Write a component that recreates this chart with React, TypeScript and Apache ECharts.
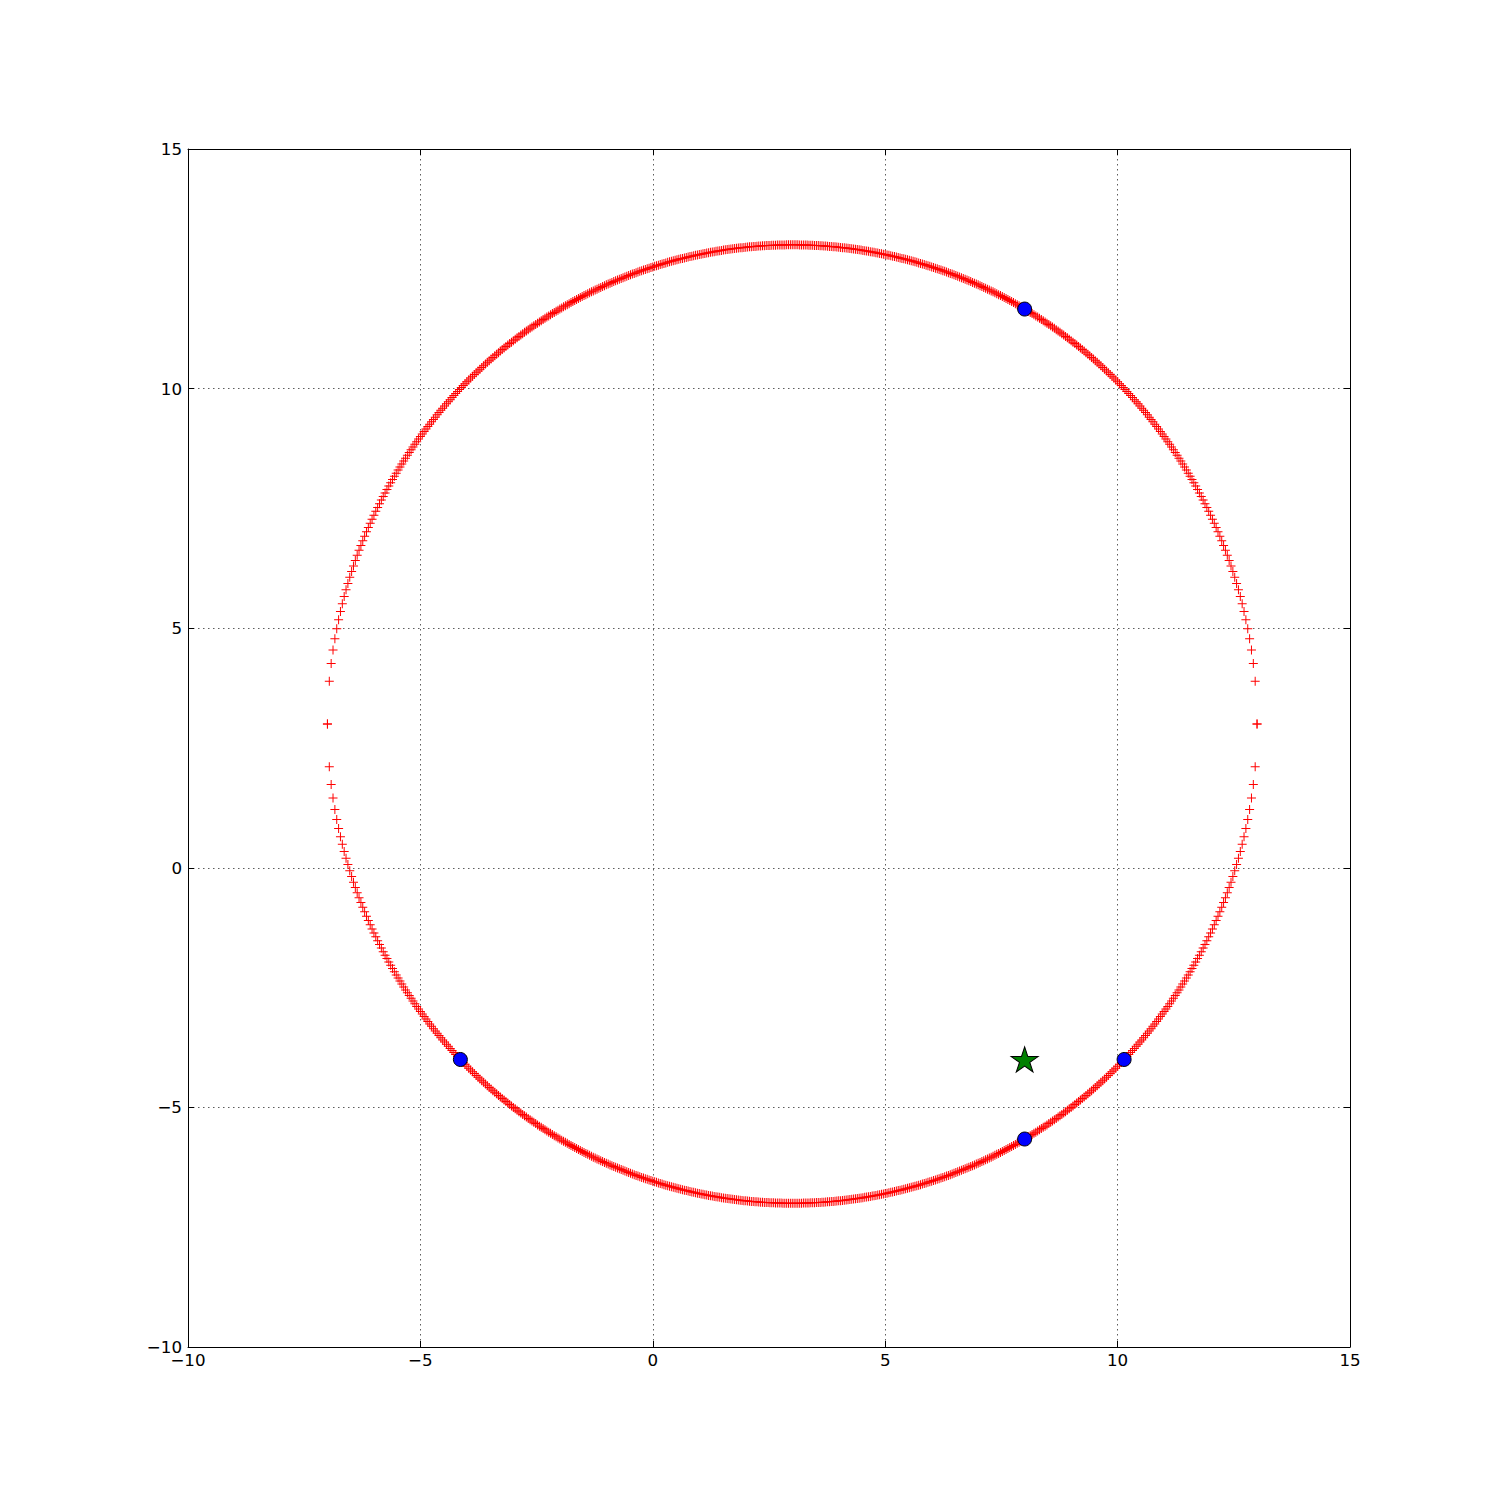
import React, { useEffect, useRef } from "react";
import * as echarts from "echarts";

// ---- Data ----
// Ring of "+" marks: points sampled at a fixed x step along a circle
const CIRCLE_CENTER_X = 3;
const CIRCLE_CENTER_Y = 3;
const CIRCLE_RADIUS = 10;
const SAMPLE_STEP = 0.04;
// Blue dots (where x = 8 and y = -4 cross the circle)
const DOT_X = [8, -4.14, 10.14, 8];
const DOT_Y = [11.66, -4, -4, -5.66];
// Green star
const STAR_X = [8];
const STAR_Y = [-4];
// Axes
const X_TICKS = [-10, -5, 0, 5, 10, 15];
const Y_TICKS = [-10, -5, 0, 5, 10, 15];

function circlePoints(): number[][] {
  const pts: number[][] = [];
  const n = Math.round((2 * CIRCLE_RADIUS) / SAMPLE_STEP);
  for (let i = 0; i <= n; i++) {
    const x = CIRCLE_CENTER_X - CIRCLE_RADIUS + i * SAMPLE_STEP;
    const d = Math.max(0, CIRCLE_RADIUS * CIRCLE_RADIUS - (x - CIRCLE_CENTER_X) ** 2);
    const h = Math.sqrt(d);
    pts.push([x, CIRCLE_CENTER_Y + h]);
    pts.push([x, CIRCLE_CENTER_Y - h]);
  }
  return pts;
}

function starPath(): string {
  const pts: string[] = [];
  const inner = 0.381966;
  for (let k = 0; k < 10; k++) {
    const r = k % 2 === 0 ? 1 : inner;
    const a = -Math.PI / 2 + (k * Math.PI) / 5;
    pts.push(`${(r * Math.cos(a)).toFixed(4)},${(r * Math.sin(a)).toFixed(4)}`);
  }
  return "path://M" + pts.join("L") + "Z";
}

const PLUS = "path://M-0.5,-4.5H0.5V-0.5H4.5V0.5H0.5V4.5H-0.5V0.5H-4.5V-0.5H-0.5Z";
const fmt = (v: number) => (v < 0 ? "\u2212" + Math.abs(v) : String(v));

export default function App() {
  const ref = useRef<HTMLDivElement>(null);
  useEffect(() => {
    if (!ref.current) return;
    const chart = echarts.init(ref.current, undefined, { renderer: "svg" });
    const xMin = X_TICKS[0];
    const xMax = X_TICKS[X_TICKS.length - 1];
    const yMin = Y_TICKS[0];
    const yMax = Y_TICKS[Y_TICKS.length - 1];
    const step = X_TICKS[1] - X_TICKS[0];
    const label = {
      fontFamily: "DejaVu Sans",
      fontSize: 16.7,
      color: "#000",
      formatter: fmt,
    };
    const tick = { show: true, inside: true, length: 6, lineStyle: { color: "#000", width: 1 } };
    const axisLine = { show: true, onZero: false, lineStyle: { color: "#000", width: 1 } };
    const gridLine = { show: true, lineStyle: { color: "#000", width: 0.8, type: [1.5, 3.5] as any, opacity: 0.8 } };
    chart.setOption({
      animation: false,
      backgroundColor: "#fff",
      grid: { left: 188, right: 150, top: 149, bottom: 150, containLabel: false },
      xAxis: [
        {
          type: "value", min: xMin, max: xMax, interval: step, position: "bottom",
          axisLine, axisTick: tick, splitLine: gridLine,
          axisLabel: { ...label, margin: 6, lineHeight: 14, showMinLabel: true, showMaxLabel: true },
        },
        {
          type: "value", min: xMin, max: xMax, interval: step, position: "top",
          axisLine, axisTick: tick, splitLine: { show: false }, axisLabel: { show: false },
        },
      ],
      yAxis: [
        {
          type: "value", min: yMin, max: yMax, interval: Y_TICKS[1] - Y_TICKS[0], position: "left",
          axisLine, axisTick: tick, splitLine: gridLine,
          axisLabel: { ...label, margin: 6, lineHeight: 12, showMinLabel: true, showMaxLabel: true },
        },
        {
          type: "value", min: yMin, max: yMax, interval: Y_TICKS[1] - Y_TICKS[0], position: "right",
          axisLine, axisTick: tick, splitLine: { show: false }, axisLabel: { show: false },
        },
      ],
      series: [
        {
          type: "scatter",
          data: circlePoints(),
          symbol: PLUS,
          symbolSize: 9,
          itemStyle: { color: "#ff0000", opacity: 1 },
          silent: true,
          emphasis: { disabled: true },
        },
        {
          type: "scatter",
          data: DOT_X.map((x, i) => [x, DOT_Y[i]]),
          symbol: "circle",
          symbolSize: 14,
          itemStyle: { color: "#0000ff", borderColor: "#000", borderWidth: 1, opacity: 1 },
          silent: true,
          emphasis: { disabled: true },
        },
        {
          type: "scatter",
          data: STAR_X.map((x, i) => [x, STAR_Y[i]]),
          symbol: starPath(),
          symbolSize: [27, 25],
          itemStyle: { color: "#008000", borderColor: "#000", borderWidth: 1, opacity: 1 },
          silent: true,
          emphasis: { disabled: true },
        },
      ],
    });
    return () => chart.dispose();
  }, []);
  return (
    <div
      ref={ref}
      style={{ position: "fixed", left: 0, top: 0, width: 1500, height: 1497, background: "#fff" }}
    />
  );
}
